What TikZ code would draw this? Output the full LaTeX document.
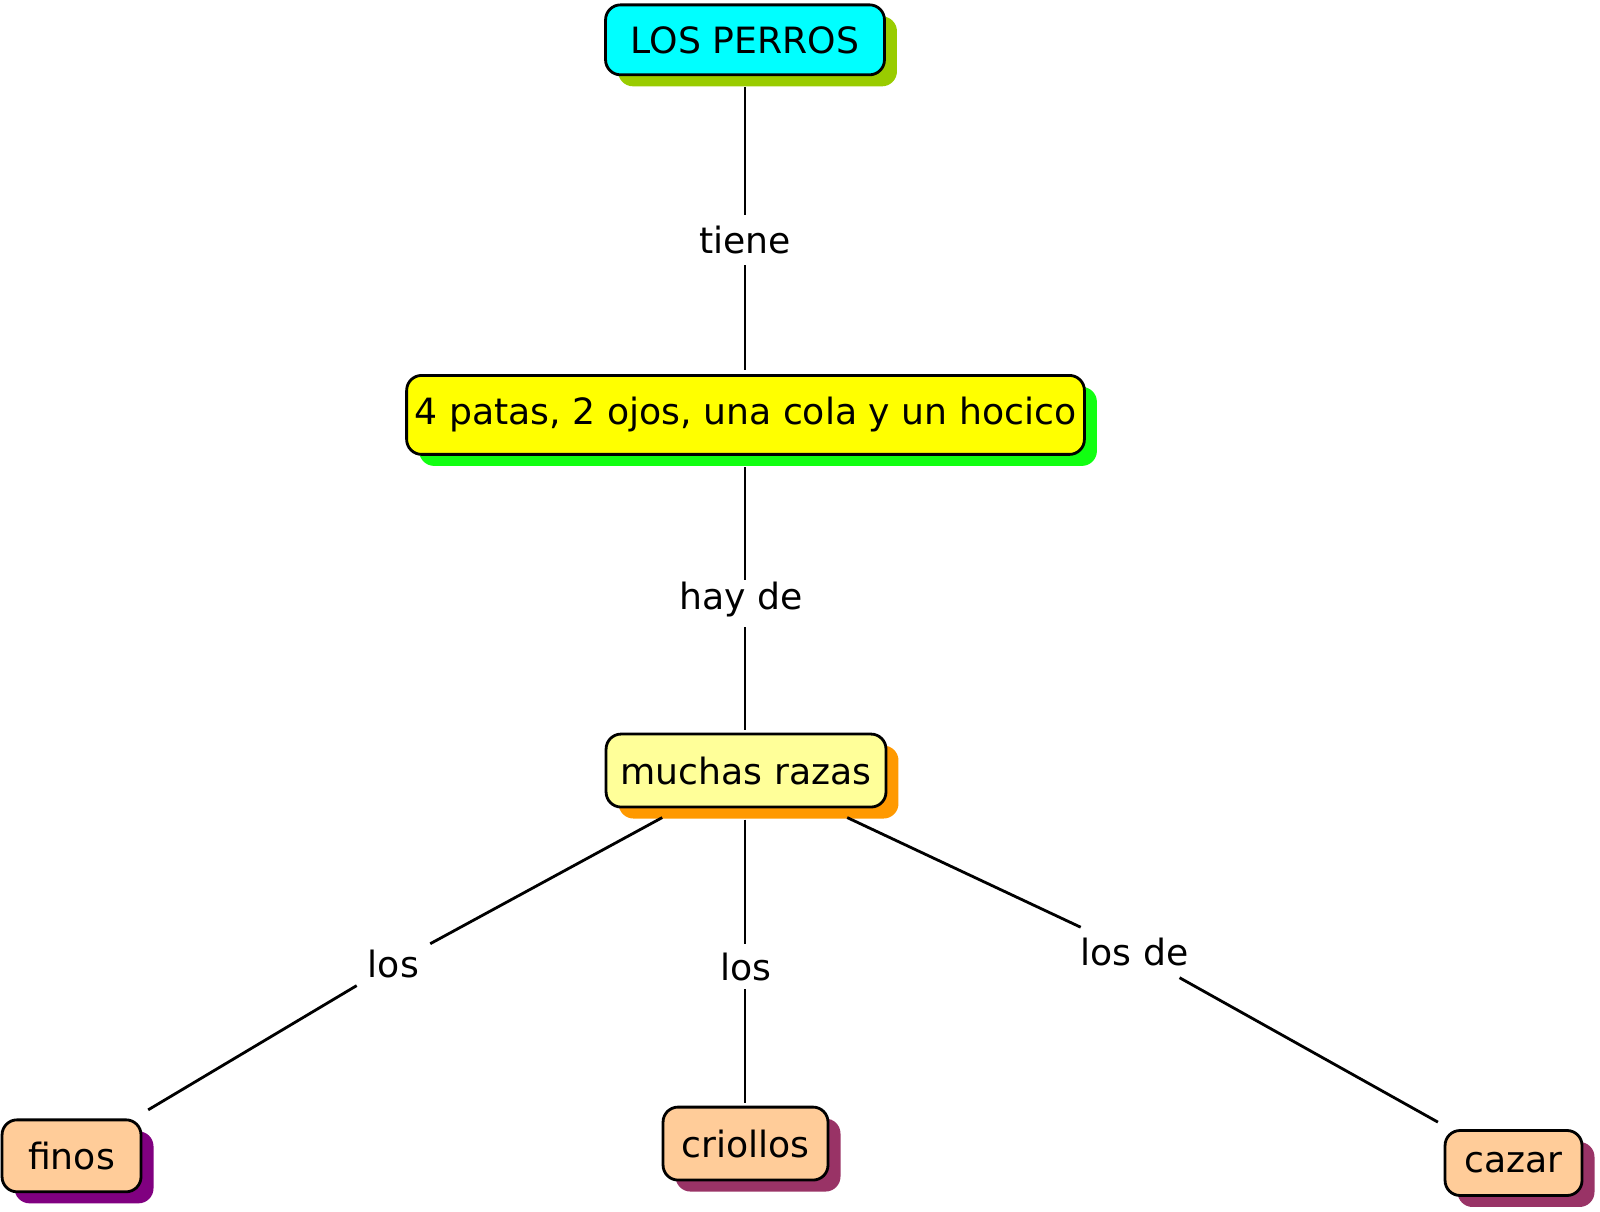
\documentclass[tikz,border=0pt]{standalone}
\usepackage{fontspec}
\setmainfont{DejaVu Sans}
\usetikzlibrary{shadows}
\definecolor{sOlive}{HTML}{99CC00}
\definecolor{sGreen}{HTML}{11FF11}
\definecolor{sOrange}{HTML}{FF9900}
\definecolor{sPurple}{HTML}{800080}
\definecolor{sMaroon}{HTML}{993366}
\definecolor{cPeach}{HTML}{FFCC99}
\definecolor{cLY}{HTML}{FFFF99}
\definecolor{cCyan}{HTML}{00FFFF}
\definecolor{cYel}{HTML}{FFFF00}
\tikzset{
 concept/.style={draw=black, line width=0.8pt, rounded corners=0.15cm, inner sep=0pt, font=\fontsize{10.3}{12}\selectfont},
 sh/.style={drop shadow={shadow xshift=0.125cm, shadow yshift=-0.115cm, fill=#1, opacity=1}},
 lab/.style={fill=white, inner sep=3pt, font=\fontsize{10.3}{12}\selectfont},
 link/.style={line width=0.8pt}
}
\begin{document}
\begin{tikzpicture}[x=0.01022cm,y=-0.01022cm]
\useasboundingbox (0,0) rectangle (1565.6,1185);
\node[concept, sh=sOlive, fill=cCyan, minimum width=2.79cm, minimum height=0.70cm] (perros) at (729,39) {LOS PERROS};
\node[concept, sh=sGreen, fill=cYel, minimum width=6.78cm, minimum height=0.79cm] (patas) at (729.5,406) {4 patas, 2 ojos, una cola y un hocico};
\node[concept, sh=sOrange, fill=cLY, minimum width=2.80cm, minimum height=0.73cm] (razas) at (730,754) {muchas razas};
\node[concept, sh=sPurple, fill=cPeach, minimum width=1.39cm, minimum height=0.72cm] (finos) at (70,1131) {finos};
\node[concept, sh=sMaroon, fill=cPeach, minimum width=1.65cm, minimum height=0.73cm] (criollos) at (729.5,1119) {criollos};
\node[concept, sh=sMaroon, fill=cPeach, minimum width=1.37cm, minimum height=0.65cm] (cazar) at (1481,1138) {cazar};
\node[lab] (l1) at (729,235) {tiene};
\node[lab] (l2) at (725,587) {hay de};
\node[lab] (l3) at (385,943) {los};
\node[lab] (l4) at (730,946) {los};
\node[lab] (l5) at (1110,932) {los de};
\draw[link] (729,85) -- (l1);
\draw[link] (l1) -- (729,362);
\draw[link] (729,457) -- (729,568);
\draw[link] (729,614) -- (729,714);
\draw[link] (648,800) -- (l3);
\draw[link] (l3) -- (145,1086);
\draw[link] (729,802) -- (729,924);
\draw[link] (729,968) -- (729,1079);
\draw[link] (829,800) -- (l5);
\draw[link] (l5) -- (1407,1098);
\end{tikzpicture}
\end{document}
